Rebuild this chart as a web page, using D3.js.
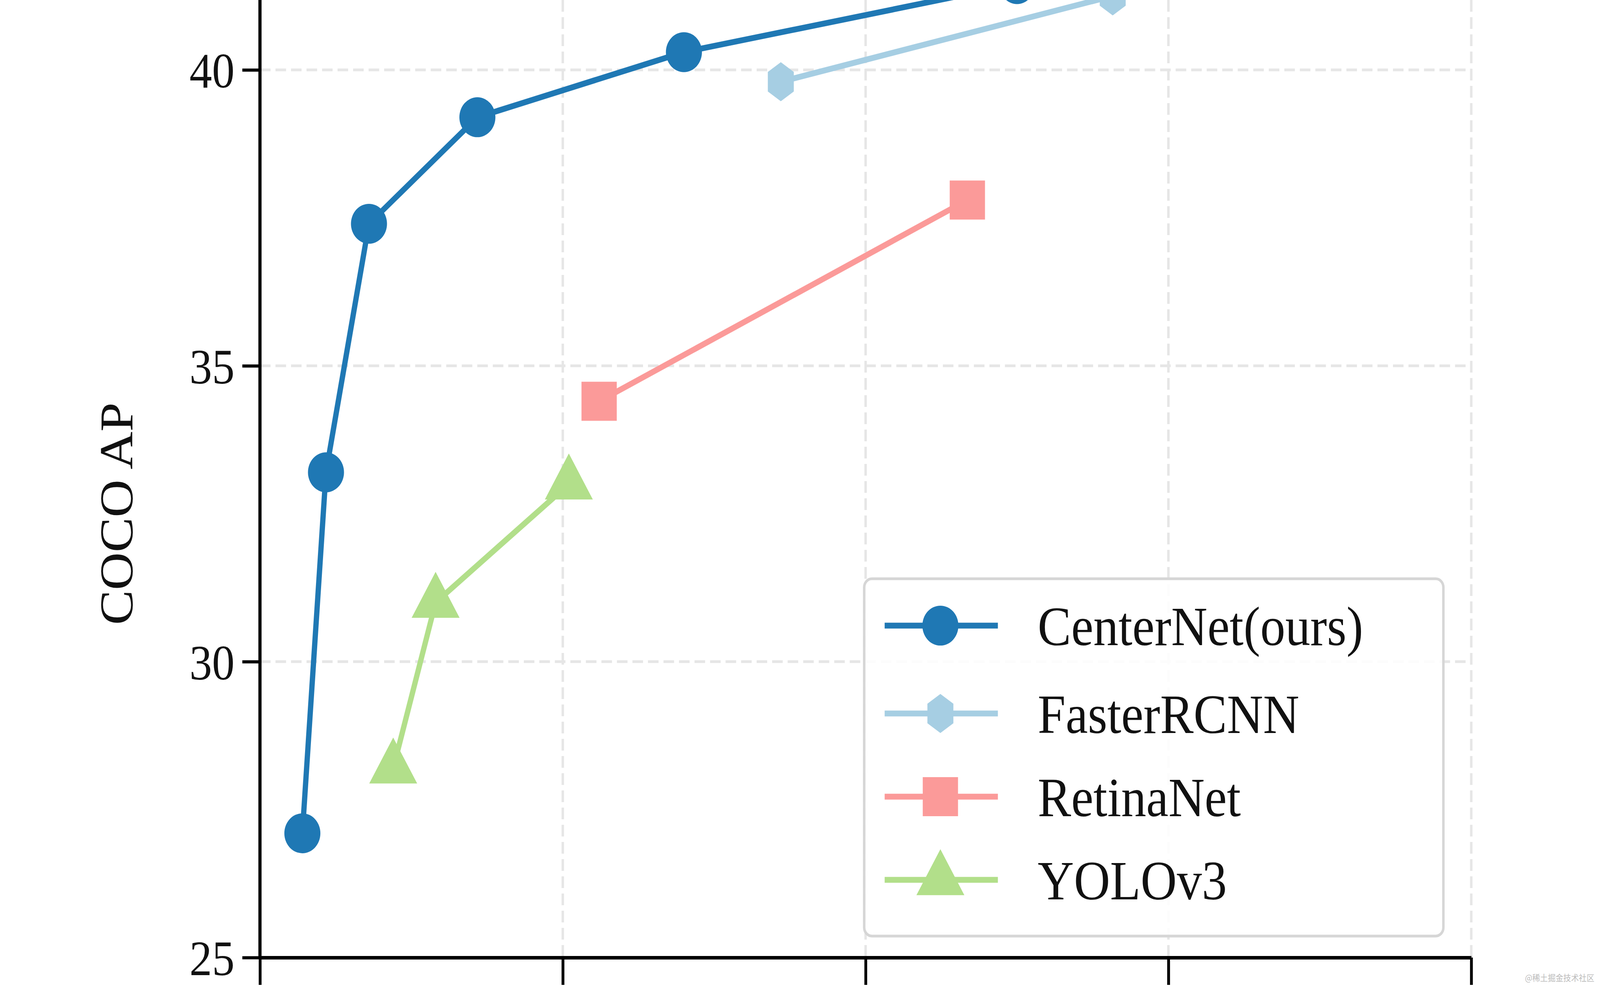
<!DOCTYPE html>
<html><head><meta charset="utf-8">
<script src="https://cdn.jsdelivr.net/npm/d3@7"></script>
<style>html,body{margin:0;padding:0;background:#fff;overflow:hidden;width:100%;height:100%}svg{display:block;width:100vw;height:100vh}</style>
</head><body><svg id="c" viewBox="0 0 4536 2553" preserveAspectRatio="none"></svg>
<script>
const seriesNames = ["CenterNet(ours)", "FasterRCNN", "RetinaNet", "YOLOv3"];
const seriesColors = ["#1f78b4", "#a6cee3", "#fb9a99", "#b2df8a"];
const seriesSymbols = ["circle", "hexagon", "square", "triangle"];
const centerNetTime = [7, 10.9, 18, 35.9, 70, 125];
const centerNetAP = [27.1, 33.2, 37.4, 39.2, 40.3, 41.45];
const fasterTime = [86, 140.8];
const fasterAP = [39.8, 41.25];
const retinaTime = [56, 116.8];
const retinaAP = [34.4, 37.8];
const yoloTime = [22, 29, 51];
const yoloAP = [28.2, 31.0, 33.0];
const xTicks = [0, 50, 100, 150, 200];
const yTicks = [25, 30, 35, 40];
const yLabel = "COCO AP";

const data = [
  centerNetTime.map((t,i)=>[t, centerNetAP[i]]),
  fasterTime.map((t,i)=>[t, fasterAP[i]]),
  retinaTime.map((t,i)=>[t, retinaAP[i]]),
  yoloTime.map((t,i)=>[t, yoloAP[i]])
];

const svg = d3.select("#c");
const x = d3.scaleLinear().domain([0,200]).range([737,4171]);
const y = d3.scaleLinear().domain([25,40]).range([2452,179]);
const serif = "'Liberation Serif','DejaVu Serif',serif";

svg.append("g").selectAll("line").data(xTicks.slice(1)).join("line")
  .attr("x1",d=>x(d)).attr("x2",d=>x(d)).attr("y1",0).attr("y2",y(25))
  .attr("stroke","#e6e6e6").attr("stroke-width",7).attr("stroke-dasharray","30,14");
svg.append("g").selectAll("line").data(yTicks.slice(1)).join("line")
  .attr("x1",x(0)).attr("x2",x(200)).attr("y1",d=>y(d)).attr("y2",d=>y(d))
  .attr("stroke","#e6e6e6").attr("stroke-width",7).attr("stroke-dasharray","30,14");

const yAxis = svg.append("g").attr("transform",`translate(${x(0)},0)`)
  .call(d3.axisLeft(y).tickValues(yTicks).tickSize(50).tickPadding(22).tickSizeOuter(0));
yAxis.select(".domain").attr("stroke","#000").attr("stroke-width",9).attr("d",`M0,0V${y(25)}`);
yAxis.selectAll(".tick line").attr("stroke-width",8);
yAxis.selectAll("text").attr("font-family",serif).attr("font-size",128).attr("fill","#111").attr("dy","0.35em");

const xAxis = svg.append("g").attr("transform",`translate(0,${y(25)})`)
  .call(d3.axisBottom(x).tickValues(xTicks).tickSize(70).tickFormat("").tickSizeOuter(0));
xAxis.select(".domain").attr("stroke","#000").attr("stroke-width",9);
xAxis.selectAll(".tick line").attr("stroke-width",8);

svg.append("text").attr("transform",`translate(375,${y(32.5)}) rotate(-90)`)
  .attr("text-anchor","middle").attr("font-family",serif).attr("font-size",134).attr("fill","#111").text(yLabel);

const sym = {circle:d3.symbolCircle, square:d3.symbolSquare, triangle:d3.symbolTriangle};
function drawMarker(g, type, cx, cy, color){
  if(type==="hexagon"){
    const r=50, pts=d3.range(6).map(i=>{const a=Math.PI/3*i+Math.PI/6;return [cx+r*Math.cos(a)*0.85, cy+r*Math.sin(a)];});
    g.append("polygon").attr("points",pts.map(p=>p.join(",")).join(" ")).attr("fill",color);
  } else {
    const size = type==="circle"?8200:type==="square"?10000:8000;
    g.append("path").attr("d",d3.symbol().type(sym[type]).size(size)())
      .attr("transform",`translate(${cx},${cy})`).attr("fill",color);
  }
}

const line = d3.line().x(d=>x(d[0])).y(d=>y(d[1]));
data.forEach((pts,i)=>{
  const g = svg.append("g");
  g.append("path").attr("d",line(pts)).attr("fill","none").attr("stroke",seriesColors[i]).attr("stroke-width",15).attr("stroke-linejoin","round");
  pts.forEach(p=>drawMarker(g, seriesSymbols[i], x(p[0]), y(p[1]), seriesColors[i]));
});

const lg = svg.append("g");
lg.append("rect").attr("x",2450).attr("y",1482).attr("width",1642).attr("height",915).attr("rx",22)
  .attr("fill","#fff").attr("fill-opacity",0.85).attr("stroke","#d6d6d6").attr("stroke-width",7);
const ly = [1602, 1827, 2040, 2253];
seriesNames.forEach((n,i)=>{
  lg.append("line").attr("x1",2508).attr("x2",2829).attr("y1",ly[i]).attr("y2",ly[i]).attr("stroke",seriesColors[i]).attr("stroke-width",15);
  drawMarker(lg, seriesSymbols[i], 2666, ly[i], seriesColors[i]);
  lg.append("text").attr("x",2942).attr("y",ly[i]).attr("dy","0.35em").attr("font-family",serif).attr("font-size",142).attr("fill","#111").text(n);
});

svg.append("text").attr("x",4520).attr("y",2512).attr("text-anchor","end").attr("font-family","'Noto Sans CJK SC',sans-serif").attr("font-size",22).attr("fill","#bbb").text("@稀土掘金技术社区");
</script></body></html>
